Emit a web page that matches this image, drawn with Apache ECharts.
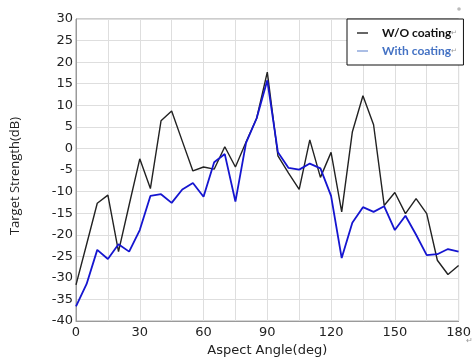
<!DOCTYPE html>
<html><head><meta charset="utf-8">
<script src="https://cdn.jsdelivr.net/npm/echarts@6/dist/echarts.min.js"></script>
<style>html,body{margin:0;padding:0;background:#fff}#c{width:474px;height:362px}</style>
</head><body><div id="c"></div>
<script>
var angles = [0,5,10,15,20,25,30,35,40,45,50,55,60,65,70,75,80,85,90,95,100,105,110,115,120,125,130,135,140,145,150,155,160,165,170,175,180];
var woCoating = [-31.6,-22.2,-12.7,-10.8,-23.9,-13.1,-2.4,-9.3,6.4,8.7,1.7,-5.2,-4.3,-4.8,0.4,-4.3,1.5,7.0,17.7,-1.7,-5.7,-9.5,2.0,-6.7,-0.9,-14.7,3.8,12.2,5.5,-13.2,-10.2,-15.1,-11.6,-15.1,-25.9,-29.2,-27.1];
var withCoating = [-36.6,-31.4,-23.5,-25.6,-22.2,-23.9,-18.9,-11.0,-10.6,-12.6,-9.5,-8.0,-11.2,-3.2,-1.3,-12.3,1.3,7.0,15.8,-0.9,-4.5,-4.9,-3.5,-4.6,-11.0,-25.4,-17.2,-13.6,-14.7,-13.4,-18.9,-15.6,-20.0,-24.7,-24.5,-23.3,-23.9];
var seriesNames = ['W/O coating','With coating'];
var xTicks = [0,30,60,90,120,150,180];
var yTicks = [-40,-35,-30,-25,-20,-15,-10,-5,0,5,10,15,20,25,30];

function pairs(v){ return angles.map(function(a,i){ return [a, v[i]]; }); }

var chart = echarts.init(document.getElementById('c'));
chart.setOption({
  animation: false,
  backgroundColor: '#fff',
  grid: { left: 76, right: 14, top: 19, bottom: 31, show: true, borderColor: '#9a9a9a', borderWidth: 1 },
  xAxis: {
    type: 'value', min: xTicks[0], max: xTicks[xTicks.length-1], interval: 15,
    name: 'Aspect Angle(deg)', nameLocation: 'middle', nameGap: 16,
    nameTextStyle: { fontFamily: 'DejaVu Sans', fontSize: 13, color: '#222' },
    axisLine: { show: true, onZero: false, lineStyle: { color: '#9a9a9a' } },
    axisTick: { show: false },
    axisLabel: { fontFamily: 'DejaVu Sans', fontSize: 13, color: '#222', margin: 5,
      formatter: function(v){ return xTicks.indexOf(v) >= 0 ? String(v) : ''; } },
    splitLine: { show: true, lineStyle: { color: '#dedede', width: 1 } }
  },
  yAxis: {
    type: 'value', min: yTicks[0], max: yTicks[yTicks.length-1], interval: 5,
    name: 'Target Strength(dB)', nameLocation: 'middle', nameGap: 54, nameRotate: 90,
    nameTextStyle: { fontFamily: 'Open Sans', fontSize: 13, color: '#222', padding: [0, 12, 0, 0] },
    axisLine: { show: true, onZero: false, lineStyle: { color: '#9a9a9a' } },
    axisTick: { show: false },
    axisLabel: { fontFamily: 'DejaVu Sans', fontSize: 13, color: '#222', margin: 3 },
    splitLine: { show: true, lineStyle: { color: '#dedede', width: 1 } }
  },
  legend: {
    left: 347, top: 19, orient: 'vertical',
    padding: [8, 6, 8, 10], itemGap: 6,
    backgroundColor: '#fff', borderColor: '#111', borderWidth: 1, borderRadius: 0,
    icon: 'rect', itemWidth: 11, itemHeight: 1.5,
    data: [
      { name: seriesNames[0], itemStyle: { color: '#333' }, textStyle: { color: '#111' } },
      { name: seriesNames[1], itemStyle: { color: '#8fa8dc' }, textStyle: { color: '#4472C4' } }
    ],
    textStyle: { fontFamily: 'Lato', fontWeight: 'bold', fontSize: 12, padding: [0,0,0,9],
      rich: { m: { fontSize: 7, color: '#999', fontWeight: 'normal' } } },
    formatter: function(n){ return n + '{m|↵}'; }
  },
  graphic: [
    { type: 'text', left: 466, top: 337, style: { text: '↵', fontSize: 8, fill: '#999' } },
    { type: 'circle', shape: { cx: 459, cy: 9, r: 1.8 }, style: { fill: '#bbb' } }
  ],
  series: [
    { name: seriesNames[0], type: 'line', data: pairs(woCoating), showSymbol: false,
      lineStyle: { color: '#222', width: 1.4 }, itemStyle: { color: '#222' } },
    { name: seriesNames[1], type: 'line', data: pairs(withCoating), showSymbol: false,
      lineStyle: { color: '#1515d0', width: 1.8 }, itemStyle: { color: '#1515d0' } }
  ]
});
</script></body></html>
